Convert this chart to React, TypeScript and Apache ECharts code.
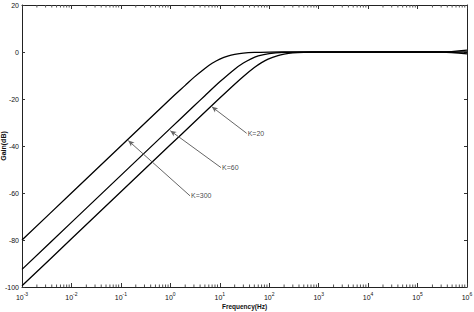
import React, { useEffect, useRef } from "react";
import * as echarts from "echarts";

// Curve K=300 (highest / left-most)
const freqK300 = [0.001, 0.01, 0.1, 1, 2, 3, 5, 7, 10, 15, 20, 30, 50, 100, 300, 1000000];
const gainK300 = [-80.0, -60.0, -40.0, -20.0, -14.2, -10.8, -7.0, -4.8, -3.0, -1.6, -1.0, -0.46, -0.17, -0.04, 0, 0];
// Curve K=60
const freqK60 = [0.001, 0.01, 0.1, 1, 3, 5, 10, 20, 30, 42, 60, 100, 200, 500, 1000, 300000, 1000000];
const gainK60 = [-92.5, -72.5, -52.5, -32.5, -23.0, -18.6, -12.7, -7.3, -4.7, -3.0, -1.7, -0.7, -0.19, -0.03, 0, 0, 0.8];
// Curve K=20 (lowest / right-most)
const freqK20 = [0.001, 0.01, 0.1, 1, 3, 10, 20, 30, 50, 70, 95, 150, 200, 300, 500, 1000, 300000, 1000000];
const gainK20 = [-99.5, -79.5, -59.5, -39.5, -30.0, -19.6, -13.7, -10.4, -6.6, -4.5, -3.0, -1.5, -0.9, -0.41, -0.15, -0.04, 0, -0.8];

// Annotations: label, arrow tail (label anchor) and arrow tip (on curve), in data units [Hz, dB]
const annotLabels = ["K=20", "K=60", "K=300"];
const annotTail = [[35, -34.6], [10.6, -49.2], [2.5, -61.2]];
const annotTip = [[6.9, -23.3], [1.0, -33.5], [0.141, -37.7]];

// Axis ranges
const xMin = 0.001;
const xMax = 1000000;
const yMin = -100;
const yMax = 20;
const yStep = 20;

const FONT = "'Liberation Sans', Arial, sans-serif";
const TXT = "#111111";

function minorTicks(): number[][] {
  const out: number[][] = [];
  for (let e = -3; e < 6; e++) {
    for (let k = 2; k <= 9; k++) out.push([k * Math.pow(10, e), yMin]);
  }
  return out;
}

export default function App() {
  const ref = useRef<HTMLDivElement>(null);
  useEffect(() => {
    if (!ref.current) return;
    const chart = echarts.init(ref.current, undefined, { renderer: "svg" });
    const zip = (xs: number[], ys: number[]) => xs.map((x, i) => [x, ys[i]]);
    const lineStyle = { color: "#000", width: 1.3 };
    const axisLineStyle = { color: "#222", width: 1 };
    const curve = (name: string, data: number[][]) => ({
      name,
      type: "line",
      data,
      smooth: 0.3,
      showSymbol: false,
      symbol: "none",
      lineStyle,
      itemStyle: { color: "#000" },
      z: 3,
    });
    const arrowLines = annotTail.map((t, i) => [
      { coord: t },
      { coord: annotTip[i] },
    ]);
    const option: any = {
      animation: false,
      grid: { left: 22, right: 7, top: 5, bottom: 25, containLabel: false, outerBoundsMode: "none" },
      xAxis: [
        {
          type: "log",
          logBase: 10,
          min: xMin,
          max: xMax,
          interval: 1,
          position: "bottom",
          name: "Frequency(Hz)",
          nameLocation: "middle",
          nameGap: 16,
          nameMoveOverlap: false,
          nameTextStyle: { fontFamily: FONT, fontSize: 6.5, fontWeight: "bold", color: TXT, verticalAlign: "top" },
          axisLine: { show: true, onZero: false, lineStyle: axisLineStyle },
          axisTick: { show: true, inside: true, length: 4, lineStyle: { color: "#333" } },
          splitLine: { show: false },
          axisLabel: {
            margin: 4,
            formatter: (v: number) => {
              const e = Math.round(Math.log10(v));
              return "{b|10}{s|" + e + "}";
            },
            rich: {
              b: { fontFamily: FONT, fontSize: 7, color: TXT, lineHeight: 10, verticalAlign: "bottom" },
              s: { fontFamily: FONT, fontSize: 5, color: TXT, lineHeight: 10, verticalAlign: "top" },
            },
          },
        },
        {
          type: "log",
          logBase: 10,
          min: xMin,
          max: xMax,
          interval: 1,
          position: "top",
          axisLine: { show: true, onZero: false, lineStyle: axisLineStyle },
          axisTick: { show: true, inside: true, length: 4, lineStyle: { color: "#333" } },
          axisLabel: { show: false },
          splitLine: { show: false },
        },
      ],
      yAxis: [
        {
          type: "value",
          min: yMin,
          max: yMax,
          interval: yStep,
          position: "left",
          name: "Gain(dB)",
          nameLocation: "middle",
          nameGap: 15,
          nameMoveOverlap: false,
          nameTextStyle: { fontFamily: FONT, fontSize: 7, fontWeight: "bold", color: TXT },
          axisLine: { show: true, onZero: false, lineStyle: axisLineStyle },
          axisTick: { show: true, inside: true, length: 3, lineStyle: { color: "#333" } },
          splitLine: { show: false },
          axisLabel: { fontFamily: FONT, fontSize: 7, color: TXT, margin: 3 },
        },
        {
          type: "value",
          min: yMin,
          max: yMax,
          interval: yStep,
          position: "right",
          axisLine: { show: true, onZero: false, lineStyle: axisLineStyle },
          axisTick: { show: true, inside: true, length: 3, lineStyle: { color: "#333" } },
          splitLine: { show: false },
          axisLabel: { show: false },
        },
      ],
      series: [
        curve("K=300", zip(freqK300, gainK300)),
        curve("K=60", zip(freqK60, gainK60)),
        {
          ...curve("K=20", zip(freqK20, gainK20)),
          markLine: {
            silent: true,
            symbol: ["none", "arrow"],
            symbolSize: [4, 6],
            lineStyle: { color: "#666", width: 1, type: "solid" },
            label: { show: false },
            data: arrowLines,
          },
        },
        {
          type: "scatter",
          data: annotTail.map((t, i) => ({ value: t, name: annotLabels[i] })),
          symbolSize: 0,
          silent: true,
          label: {
            show: true,
            position: "right",
            distance: 1,
            formatter: (p: any) => p.name,
            fontFamily: FONT,
            fontSize: 7,
            color: TXT,
          },
          z: 4,
        },
        {
          type: "custom",
          silent: true,
          clip: false,
          data: minorTicks(),
          renderItem: (_params: any, api: any) => {
            const f = api.value(0);
            const pb = api.coord([f, yMin]);
            const pt = api.coord([f, yMax]);
            return {
              type: "group",
              children: [
                { type: "line", shape: { x1: pb[0], y1: pb[1], x2: pb[0], y2: pb[1] - 2.5 }, style: { stroke: "#555", lineWidth: 1 } },
                { type: "line", shape: { x1: pt[0], y1: pt[1], x2: pt[0], y2: pt[1] + 2.5 }, style: { stroke: "#555", lineWidth: 1 } },
              ],
            };
          },
        },
      ],
    };
    chart.setOption(option);
    return () => chart.dispose();
  }, []);
  return (
    <div
      ref={ref}
      style={{ position: "fixed", left: 0, top: 0, width: 474, height: 312, background: "#fff" }}
    />
  );
}
